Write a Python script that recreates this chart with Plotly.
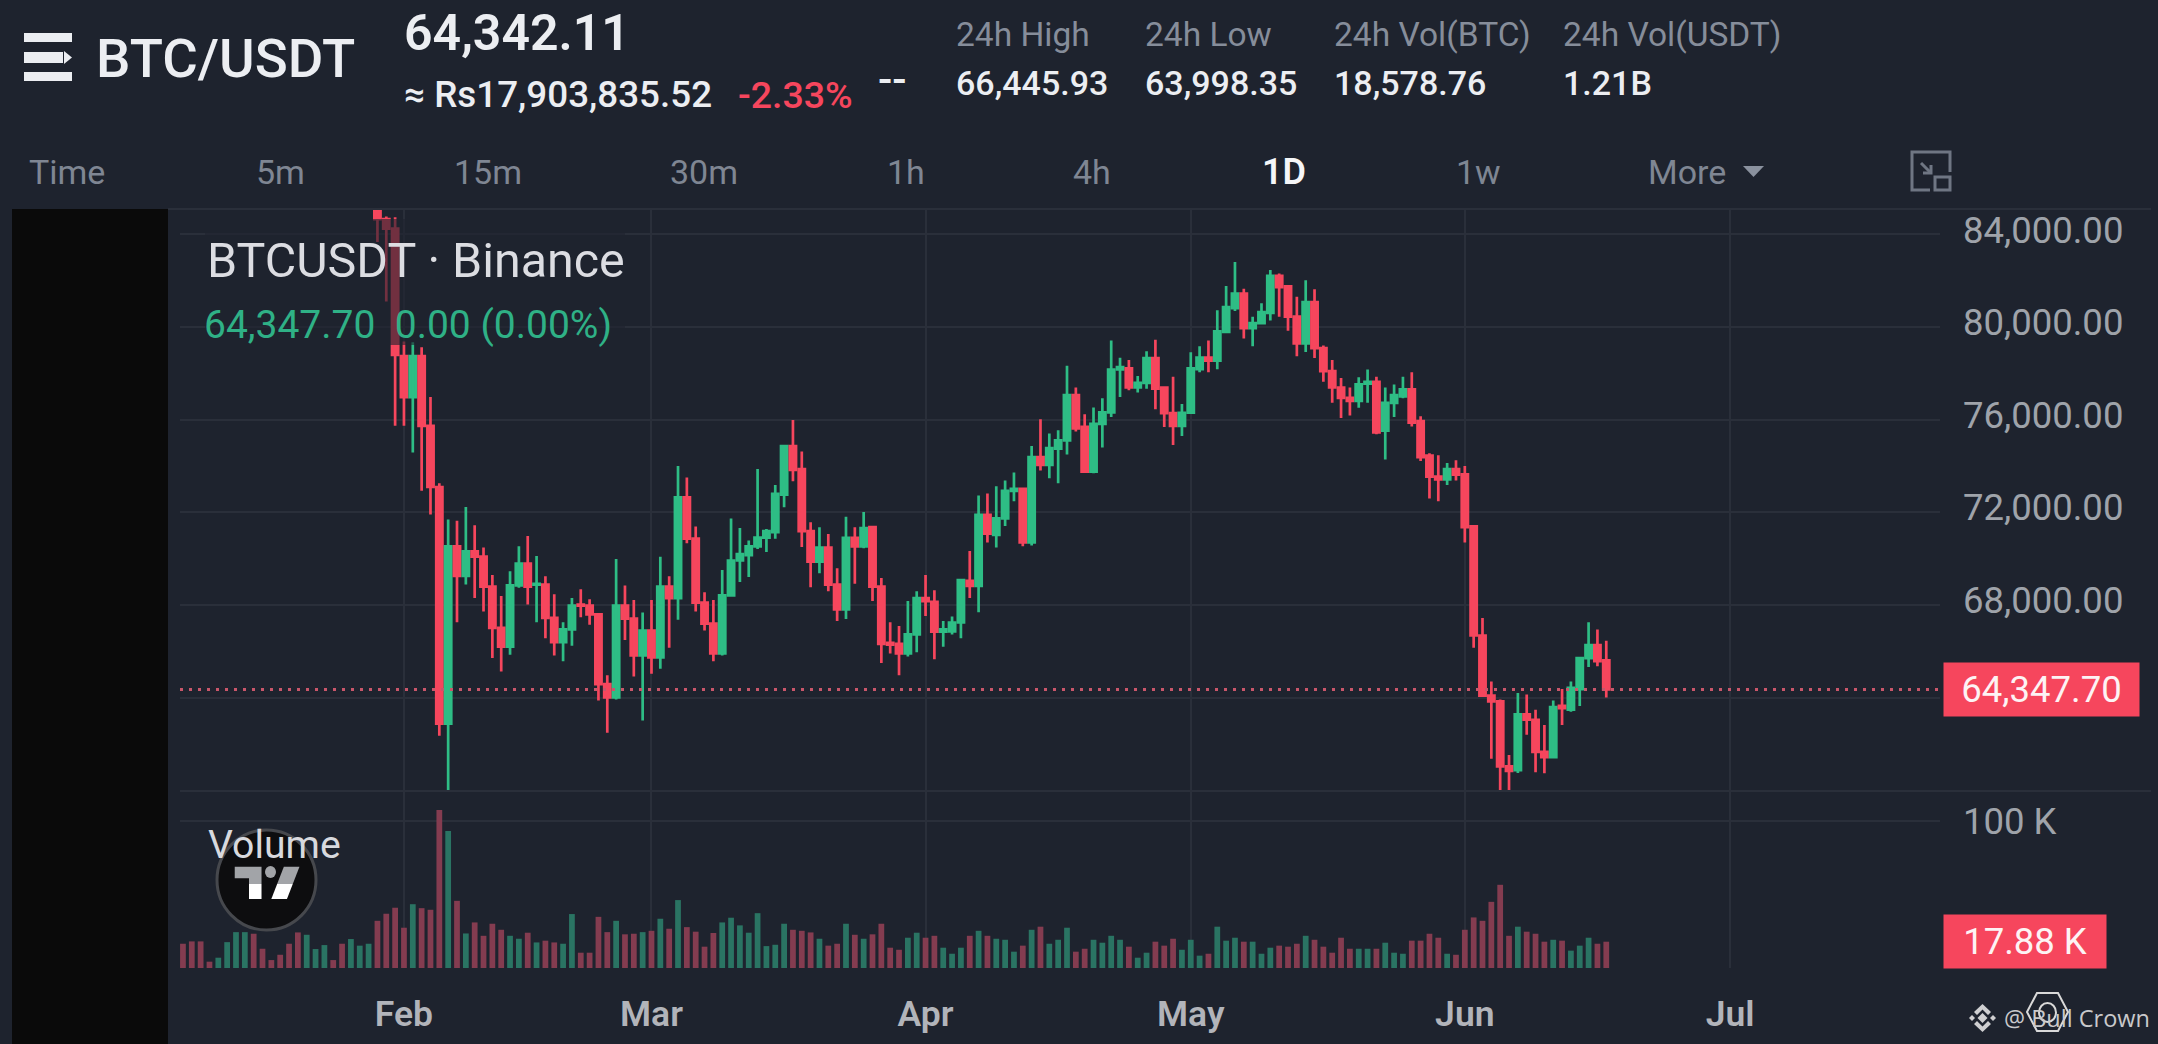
import plotly.graph_objects as go
import pandas as pd

W, H = 2158, 1044

# daily candles, Jan 29 to Jun 17 (earlier days are above the visible scale)
jan_open = [85157, 84661, 84248]
jan_high = [85500, 84777, 84744]
jan_low = [83669, 81107, 75735]
jan_close = [84661, 84248, 78793]

feb_open = [78743, 76975, 78743, 75735, 73090, 62875, 70528, 69255, 70313, 70082, 68792, 67007, 66197, 68842,
            69784, 68875, 68875, 67437, 66395, 66940, 68015, 67966, 67586, 64577, 63999, 67966, 67404, 65817]
feb_high = [79372, 79338, 79124, 76975, 73255, 71685, 71635, 72230, 71437, 70478, 69288, 68379, 69454, 70528,
            70974, 70115, 69238, 68461, 67255, 68296, 68676, 68247, 67635, 64957, 69983, 68842, 68214, 67668]
feb_low = [75735, 74578, 72925, 71900, 62345, 59950, 67255, 68875, 68296, 67718, 65701, 65122, 65850, 68743,
           68015, 67255, 66561, 65817, 65569, 66230, 67470, 67140, 63866, 62478, 63916, 66478, 64908, 63007]
feb_close = [76975, 78743, 75735, 73090, 62875, 70528, 69255, 70313, 70082, 68792, 67007, 66197, 68842, 69784,
             68792, 68908, 67437, 66395, 66940, 67966, 67966, 67586, 64577, 63999, 67966, 67404, 65817, 66892]

mar_open = [66892, 65734, 68792, 68296, 72644, 70859, 68098, 67189, 65900, 68412, 69916, 70148, 70528, 70908, 71140, 72760,
            74859, 73867, 71189, 69867, 70478, 68875, 67801, 70892, 70528, 71354, 68792, 66363, 66313, 65900, 66726]
mar_high = [68214, 70082, 69238, 73999, 73503, 71388, 68544, 68214, 69503, 71735, 71321, 70776, 73867, 71272, 73173, 74870,
            75983, 74627, 71569, 71354, 71057, 69586, 71801, 71354, 72016, 71388, 69156, 67255, 67090, 68164, 68594]
mar_low = [65024, 65238, 66148, 67354, 70660, 67718, 66891, 65569, 65817, 68379, 68991, 69206, 70412, 70280, 70859, 72214,
           73338, 70495, 68759, 69371, 68594, 67305, 67387, 68908, 70445, 68164, 65486, 65900, 64957, 65767, 65949]
mar_close = [65734, 68792, 68296, 72644, 70859, 68098, 67189, 65900, 68412, 69916, 70197, 70528, 70908, 71189, 72793, 74859,
             73834, 71189, 69867, 70478, 68875, 67801, 70892, 70528, 71321, 68792, 66313, 66280, 65900, 66726, 68296]

apr_open = [68296, 68131, 66842, 66858, 67239, 69040, 68825, 71884, 71024, 71735, 72925, 73008, 70693, 74380, 74049,
            74743, 75107, 77057, 75685, 73751, 75818, 76314, 78165, 78215, 77388, 77586, 78661, 77388, 76280, 75735]
apr_high = [69288, 68627, 67305, 67503, 69123, 70330, 72727, 72809, 73123, 73371, 73718, 73057, 74859, 76016, 75404,
            75537, 78330, 77388, 76231, 76528, 76925, 79421, 78677, 78578, 77884, 78958, 79454, 77421, 77851, 76677]
apr_low = [67519, 65652, 66197, 66726, 66561, 68296, 67685, 70693, 70478, 71404, 72479, 70528, 70561, 73801, 73470,
           73255, 74495, 75487, 73718, 73685, 74793, 76115, 76975, 77272, 77173, 77338, 76446, 75685, 74908, 75289]
apr_close = [68164, 66842, 66941, 67239, 69073, 68825, 71884, 71074, 71735, 72925, 73008, 70693, 74380, 74049, 74776,
             75107, 77057, 75619, 73751, 75818, 76314, 78165, 78264, 77388, 77586, 78661, 77338, 76280, 75735, 76297]

may_open = [76297, 78181, 78677, 78545, 79785, 80810, 81438, 79950, 80165, 80612, 82215, 81752, 80446, 79289, 81074, 79090,
            78099, 77388, 76942, 76809, 77553, 77636, 75520, 76727, 77007, 77305, 75933, 74446, 73537, 73421, 73867]
may_high = [78909, 79173, 79421, 80727, 81768, 82810, 81653, 80446, 81025, 82463, 82314, 81768, 81306, 82016, 81636, 79206,
            78578, 77801, 77388, 77834, 78165, 77851, 77388, 77520, 77851, 78049, 76148, 74545, 74462, 74132, 74247]
may_low = [76297, 78049, 78049, 78181, 79785, 80694, 79504, 79173, 80115, 80281, 80446, 79834, 78743, 78925, 78661, 77636,
           76727, 76066, 76181, 76512, 76727, 75371, 74280, 76115, 76925, 75702, 74214, 72594, 72479, 73173, 73371]
may_close = [78214, 78677, 78545, 79818, 80859, 81438, 79950, 80165, 80644, 82215, 81719, 80446, 79289, 81074, 79090, 78099,
             77388, 76942, 76809, 77520, 77636, 75454, 76727, 77057, 77305, 75867, 74380, 73537, 73421, 73867, 73619]

jun_open = [73636, 71388, 66677, 64081, 63833, 61023, 60858, 63271, 63040, 61651, 61420, 63635, 63470, 64362, 65701, 66263, 65602]
jun_high = [73999, 71400, 67437, 64693, 63916, 61519, 64197, 64131, 63470, 62809, 63866, 64362, 64693, 65734, 67255, 66941, 66445.93]
jun_low = [70693, 66148, 64070, 61354, 59982, 59982, 60742, 62395, 60775, 60726, 61420, 62809, 63387, 63635, 65321, 65354, 63998.35]
jun_close = [71354, 66677, 64081, 63833, 61023, 60825, 63271, 63040, 61651, 61420, 63585, 63536, 64412, 65701, 66263, 65569, 64347.70]

opens = jan_open + feb_open + mar_open + apr_open + may_open + jun_open
highs = jan_high + feb_high + mar_high + apr_high + may_high + jun_high
lows = jan_low + feb_low + mar_low + apr_low + may_low + jun_low
closes = jan_close + feb_close + mar_close + apr_close + may_close + jun_close
candle_dates = pd.date_range("2026-01-29", "2026-06-17")

# volume in thousands, Jan 7 to Jun 17
vol_jan = [16.5, 18.1, 18.1, 4.3, 7.0, 17.6, 24.4, 24.4, 23.3, 13.1, 5.4, 9.0, 16.5, 24.2, 22.6, 12.9, 15.6, 5.4, 16.5,
           19.7, 15.2, 16.5, 32.1, 36.9, 41.0]
vol_feb = [27.4, 43.4, 40.7, 39.6, 107.5, 93.2, 45.7, 23.5, 31.0, 21.9, 30.1, 26.0, 21.9, 19.9, 24.0, 17.4, 18.6, 17.4,
           16.5, 36.7, 10.4, 10.4, 34.8, 24.4, 32.1, 22.9, 23.3, 24.4]
vol_mar = [25.3, 33.5, 26.7, 46.2, 27.8, 24.7, 14.5, 23.8, 31.0, 34.2, 29.0, 24.0, 37.3, 14.9, 15.8, 30.1, 26.0, 25.3,
           24.2, 19.9, 15.2, 16.5, 30.1, 22.6, 19.9, 22.9, 30.1, 13.8, 12.4, 20.6, 24.0]
vol_apr = [20.6, 21.9, 13.8, 9.7, 13.8, 21.9, 25.3, 21.9, 19.9, 19.2, 11.1, 15.2, 26.0, 28.1, 16.5, 19.2, 27.4, 11.1,
           13.1, 19.2, 17.2, 21.9, 19.2, 14.5, 7.0, 10.4, 17.9, 15.2, 19.9, 12.4]
vol_may = [19.2, 8.4, 9.7, 28.1, 18.6, 20.6, 17.9, 17.9, 9.7, 13.8, 15.2, 14.5, 16.5, 21.9, 19.2, 14.5, 10.4, 20.6, 13.1,
           13.1, 13.1, 13.1, 17.2, 10.4, 9.7, 18.6, 18.6, 23.3, 20.6, 9.7, 9.0]
vol_jun = [26.0, 34.4, 32.1, 45.0, 56.6, 21.9, 28.1, 24.7, 23.3, 17.9, 19.2, 18.6, 11.8, 15.2, 20.6, 16.5, 17.88]
volumes = vol_jan + vol_feb + vol_mar + vol_apr + vol_may + vol_jun
# r = down day, g = up day
vol_dir = ("rrrrggggrrrrrrgggrrgggrrr" + "rgrrrgrgrrrrggrgrrggrrrrgrrg" + "rgrgrrrrggggggggrrrgrrgrgrrrrgg"
           + "rrgggrgrgggrgrgggrrggggrggrrrg" + "ggrgggrgggrrrgrrrrrggrgggrrrrgr" + "rrrrrrgrrrgrgggrr")
vol_dates = pd.date_range("2026-01-07", "2026-06-17")

assert len(opens) == len(highs) == len(lows) == len(closes) == len(candle_dates)
assert len(volumes) == len(vol_dir) == len(vol_dates)

price_ticks = [64000, 68000, 72000, 76000, 80000, 84000]
price_labels = ["", "68,000.00", "72,000.00", "76,000.00", "80,000.00", "84,000.00"]
month_ticks = ["2026-02-01", "2026-03-01", "2026-04-01", "2026-05-01", "2026-06-01", "2026-07-01"]
month_labels = ["Feb", "Mar", "Apr", "May", "Jun", "Jul"]
last_price = 64347.70
last_volume = 17.88

stats = [("24h High", "66,445.93", 957), ("24h Low", "63,998.35", 1146),
         ("24h Vol(BTC)", "18,578.76", 1335), ("24h Vol(USDT)", "1.21B", 1564)]
timeframes = [("Time", 30), ("5m", 257), ("15m", 455), ("30m", 671), ("1h", 888), ("4h", 1074), ("1w", 1457), ("More", 1649)]

BG = "#1e232e"
GRID = "#2a2f3a"
UP = "#2ebd85"
DOWN = "#f6465d"
VOL_UP = "#2a7463"
VOL_DOWN = "#843c50"


def px(x):
    return x / W


def py(y):
    return 1 - y / H


def poly(points):
    return "M" + " L".join(f"{px(x)},{py(y)}" for x, y in points) + " Z"


fig = go.Figure()
fig.add_trace(go.Candlestick(x=candle_dates, open=opens, high=highs, low=lows, close=closes,
                             increasing=dict(line=dict(color=UP, width=2.7), fillcolor=UP),
                             decreasing=dict(line=dict(color=DOWN, width=2.7), fillcolor=DOWN),
                             whiskerwidth=0, xaxis="x", yaxis="y"))
fig.add_trace(go.Bar(x=vol_dates, y=volumes, xaxis="x", yaxis="y2",
                     marker=dict(color=[VOL_UP if d == "g" else VOL_DOWN for d in vol_dir], line_width=0)))
# only carries the price labels, which sit a little above their grid lines
fig.add_trace(go.Scatter(x=candle_dates[:1], y=closes[:1], yaxis="y3", xaxis="x", mode="lines", hoverinfo="skip"))

shapes = []


def rect(x0, y0, x1, y1, fill, line=None, lw=0):
    shapes.append(dict(type="rect", xref="paper", yref="paper", x0=px(x0), x1=px(x1), y0=py(y0), y1=py(y1),
                       fillcolor=fill, line=dict(color=line or fill, width=lw), layer="above"))


def path(points, fill, closed=True, line=None, lw=0):
    d = poly(points) if closed else poly(points)[:-2]
    shapes.append(dict(type="path", xref="paper", yref="paper", path=d, fillcolor=fill,
                       line=dict(color=line or fill, width=lw), layer="above"))


# left black strip and pane borders
rect(12, 209, 168, H, "#0a0a0a")
rect(168, 208, 2151, 210, GRID)
rect(180, 790, 2151, 792, GRID)
# legend backdrop dims what is behind it
rect(205, 219, 625, 345, "rgba(30,35,46,0.62)")

# last price line
shapes.append(dict(type="line", xref="paper", yref="y", x0=px(180), x1=px(1940), y0=last_price, y1=last_price,
                   line=dict(color="#c9566a", width=3, dash="3px,6px"), layer="above"))

# menu icon
ICON = "#eceef2"
rect(24, 33, 72, 42, ICON)
rect(24, 52, 63, 63, ICON)
path([(64, 51), (72, 57.5), (64, 64)], ICON)
rect(24, 72, 72, 81, ICON)

# layout switch icon
ICON2 = "#6f7683"
path([(1950, 172), (1950, 152), (1912, 152), (1912, 190), (1930, 190)], "rgba(0,0,0,0)", closed=False, line=ICON2, lw=3)
rect(1935, 177, 1950, 190, "rgba(0,0,0,0)", line=ICON2, lw=3)
path([(1921, 163), (1931, 173)], "rgba(0,0,0,0)", closed=False, line=ICON2, lw=3)
path([(1931, 165), (1931, 173), (1923, 173)], "rgba(0,0,0,0)", closed=False, line=ICON2, lw=3)
path([(1743, 166), (1764, 166), (1753.5, 177)], "#8a919e")

# logo badge
shapes.append(dict(type="circle", xref="paper", yref="paper", x0=px(217), x1=px(316), y0=py(930), y1=py(830),
                   fillcolor="#0d0d0f", line=dict(color="#46484d", width=3), layer="above"))


def logo(x, y):
    return 170 + x / 2.24, 780 + y / 3


LOGO_TOP = "#a2a4a8"
LOGO_LOW = "#ffffff"
path([logo(145, 260), logo(205, 260), logo(205, 312), logo(177, 312), logo(177, 295), logo(145, 295)], LOGO_TOP)
path([logo(177, 312), logo(205, 312), logo(205, 357), logo(177, 357)], LOGO_LOW)
path([logo(255, 260), logo(290, 260), logo(275, 312), logo(240, 312)], LOGO_TOP)
path([logo(240, 312), logo(275, 312), logo(262, 357), logo(227, 357)], LOGO_LOW)
shapes.append(dict(type="circle", xref="paper", yref="paper", x0=px(265), x1=px(276), y0=py(878), y1=py(866),
                   fillcolor=LOGO_TOP, line=dict(width=0), layer="above"))

# watermark: exchange mark and hexagon
MARK = "#cfcfd1"
path([(1982.5, 1013), (1987.5, 1018), (1982.5, 1023), (1977.5, 1018)], MARK)
path([(1982.5, 1004), (1991, 1012), (1988, 1015), (1982.5, 1009.5), (1977, 1015), (1974, 1012)], MARK)
path([(1982.5, 1032), (1991, 1024), (1988, 1021), (1982.5, 1026.5), (1977, 1021), (1974, 1024)], MARK)
path([(1972, 1015), (1975, 1018), (1972, 1021), (1969, 1018)], MARK)
path([(1993, 1015), (1996, 1018), (1993, 1021), (1990, 1018)], MARK)
path([(2027, 1012), (2037, 993), (2058, 993), (2068, 1012), (2058, 1031), (2037, 1031)], "rgba(0,0,0,0)", line="#d9d9d9", lw=2)
shapes.append(dict(type="circle", xref="paper", yref="paper", x0=px(2039), x1=px(2056), y0=py(1022), y1=py(1003),
                   fillcolor="rgba(0,0,0,0)", line=dict(color="#d9d9d9", width=2), layer="above"))

annotations = []


def label(text, x, y, size, color, weight=400, family="Roboto"):
    annotations.append(dict(text=text, xref="paper", yref="paper", x=px(x), y=py(y), xanchor="left", yanchor="middle",
                            xshift=-3, showarrow=False, font=dict(family=family, size=size, color=color, weight=weight)))


WHITE = "#eceef2"
MUTED = "#868d9a"
label("BTC/USDT", 97, 58, 54.5, WHITE, 500)
label("64,342.11", 405, 33, 50, WHITE, 600)
label("≈ Rs17,903,835.52", 405, 95, 36.8, WHITE, 500)
label("-2.33%", 739, 95, 37.5, DOWN, 500)
label("--", 879, 80, 42, WHITE, 500)
for name, value, x in stats:
    label(name, x, 34, 33.5, MUTED)
    label(value, x, 83, 34, WHITE, 500)
for name, x in timeframes:
    label(name, x, 172, 34, "#7f8693")
label("1D", 1263, 172, 36, "#f5f6f8", 600)

label("BTCUSDT · Binance", 208, 260, 48.4, "#dcdde2", 400)
label("64,347.70  0.00 (0.00%)", 205, 325, 39, "#2fb186", 400)
label("Volume", 209, 845, 39.2, "#d8d9de", 400)
label("@ Bull Crown", 2005, 1018, 23.5, "#c9c9cb", 400, "Open Sans, DejaVu Sans")

annotations.append(dict(text="64,347.70", xref="paper", yref="y", x=px(1943), y=last_price, xanchor="left", yanchor="middle",
                        width=193, height=51, bgcolor=DOWN, showarrow=False, align="center",
                        font=dict(family="Roboto", size=36.5, color="#fdf3f4")))
annotations.append(dict(text="17.88 K", xref="paper", yref="y2", x=px(1943), y=last_volume, xanchor="left", yanchor="middle",
                        width=160, height=51, bgcolor=DOWN, showarrow=False, align="center",
                        font=dict(family="Roboto", size=36.5, color="#fdf3f4")))

fig.update_layout(
    width=W, height=H, margin=dict(l=0, r=0, t=0, b=0),
    paper_bgcolor=BG, plot_bgcolor=BG, showlegend=False, bargap=0.35, boxgap=0.3, boxgroupgap=0,
    shapes=shapes, annotations=annotations,
    xaxis=dict(domain=[px(180), px(1940)], range=["2026-01-06 16:00", "2026-07-24 18:00"], anchor="y2",
               rangeslider=dict(visible=False), tickvals=month_ticks, ticktext=month_labels,
               tickfont=dict(family="Roboto", size=35.5, color="#b2b4ba", weight=600), ticks="", ticklabelstandoff=21,
               showgrid=True, gridcolor=GRID, gridwidth=2, zeroline=False),
    yaxis=dict(domain=[py(791), py(209.6)], range=[59962, 85071], side="right", anchor="x",
               tickvals=price_ticks, showticklabels=False, ticks="",
               showgrid=True, gridcolor=GRID, gridwidth=2, zeroline=False),
    yaxis2=dict(domain=[py(968), py(791)], range=[0, 120.4], side="right", anchor="x",
                tickvals=[100], ticktext=["100 K"],
                tickfont=dict(family="Roboto", size=36.5, color="#9fa3aa"), ticks="", ticklabelstandoff=22,
                showgrid=True, gridcolor=GRID, gridwidth=2, zeroline=False),
    yaxis3=dict(overlaying="y", range=[59762, 84871], side="right", anchor="x",
                tickvals=price_ticks, ticktext=price_labels,
                tickfont=dict(family="Roboto", size=36.5, color="#9fa3aa"), ticks="", ticklabelstandoff=22,
                showgrid=False, zeroline=False),
)

fig.write_html("out.html", config=dict(displayModeBar=False),
               post_script="document.body.style.margin='0';document.documentElement.style.overflow='hidden';")
